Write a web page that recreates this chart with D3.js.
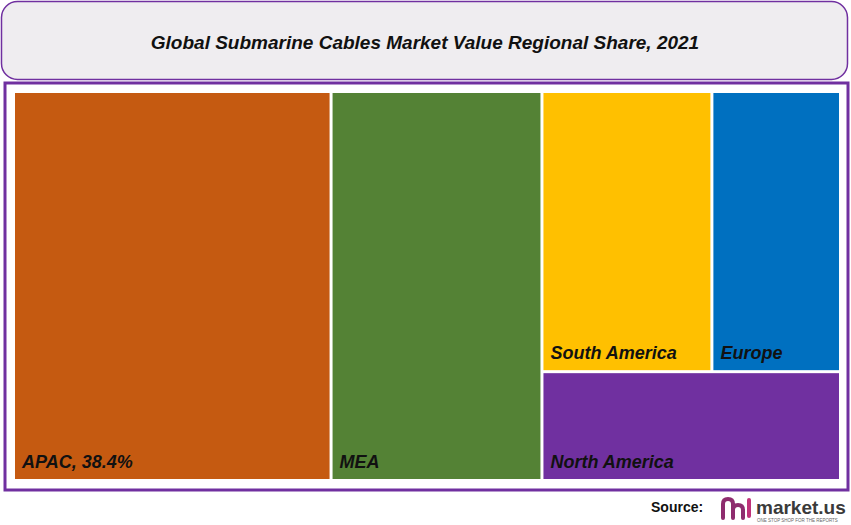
<!DOCTYPE html><html><head><meta charset="utf-8"><script src="https://cdn.jsdelivr.net/npm/d3@7"></script>
<style>body{margin:0;background:#fff}</style></head><body><svg id="c" width="851" height="525"></svg>
<script>
const regions=["APAC","MEA","South America","Europe","North America"];
const shares=[38.4,25.5,14.8,11.2,10.1];
const colors=["#C55A11","#548235","#FFC000","#0070C0","#7030A0"];
const labels=["APAC, 38.4%","MEA","South America","Europe","North America"];
const svg=d3.select("#c");
const font="'Liberation Sans', Arial, sans-serif";
svg.append("rect").attr("x",1.5).attr("y",1.5).attr("width",846).attr("height",78).attr("rx",16).attr("fill","#EFEDF0").attr("stroke","#7030A0").attr("stroke-width",1.5);
svg.append("text").attr("x",425).attr("y",49).attr("text-anchor","middle").attr("font-family",font).attr("font-weight","bold").attr("font-style","italic").attr("font-size",19).attr("fill","#111").text("Global Submarine Cables Market Value Regional Share, 2021");
svg.append("rect").attr("x",5).attr("y",83).attr("width",843).attr("height",407).attr("fill","#fff").attr("stroke","#7030A0").attr("stroke-width",3);
const idx=i=>({name:regions[i],value:shares[i],i});
const tree={children:[idx(0),idx(1),{children:[{children:[idx(2),idx(3)]},idx(4)]}]};
const root=d3.hierarchy(tree).sum(d=>d.value||0);
d3.treemap().tile(d3.treemapSliceDice).size([824,386]).paddingInner(3)(root);
const g=svg.append("g").attr("transform","translate(15,93)");
root.leaves().forEach(l=>{
 g.append("rect").attr("x",l.x0).attr("y",l.y0).attr("width",l.x1-l.x0).attr("height",l.y1-l.y0).attr("fill",colors[l.data.i]);
 g.append("text").attr("x",l.x0+7).attr("y",l.y1-11).attr("font-family",font).attr("font-weight","bold").attr("font-style","italic").attr("font-size",18).attr("fill","#111").text(labels[l.data.i]);
});
svg.append("text").attr("x",651).attr("y",512).attr("font-family",font).attr("font-weight","bold").attr("font-size",14).attr("fill","#111").text("Source:");
const lg=svg.append("g").attr("transform","translate(721,496)");
lg.append("path").attr("d","M2,22 L2,8 Q2,3 7,3 Q12,3 12,8 L12,22 M12,14 Q12,9 17,9 Q22,9 22,14 L22,22").attr("fill","none").attr("stroke","#8E2C6E").attr("stroke-width",4).attr("stroke-linecap","round");
lg.append("rect").attr("x",26).attr("y",2).attr("width",4).attr("height",20).attr("rx",2).attr("fill","#C0327A");
svg.append("text").attr("x",756).attr("y",514).attr("font-family",font).attr("font-weight","bold").attr("font-size",19).attr("fill","#3a3a3a").text("market.us");
svg.append("text").attr("x",757).attr("y",522).attr("font-family",font).attr("font-size",4.5).attr("fill","#666").text("ONE STOP SHOP FOR THE REPORTS");
</script></body></html>
